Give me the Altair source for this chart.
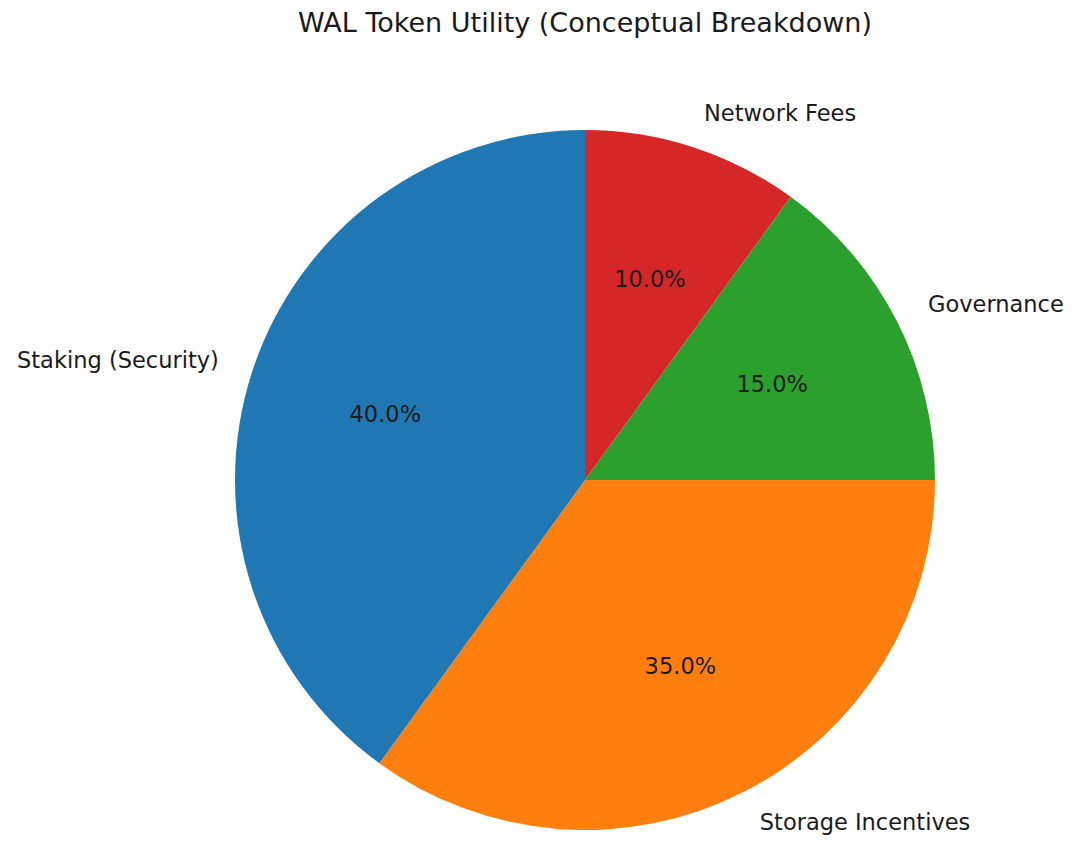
import altair as alt
import pandas as pd

categories = ["Network Fees", "Governance", "Storage Incentives", "Staking (Security)"]
shares = [10, 15, 35, 40]
colors = ["#d62728", "#2ca02c", "#ff7f0e", "#1f77b4"]
sides = ["left", "left", "left", "right"]

df = pd.DataFrame({
    "category": categories,
    "share": shares,
    "side": sides,
    "order": list(range(len(categories))),
})
df["pct"] = [f"{v:.1f}%" for v in shares]

CX, CY, R = 577, 422, 350
FONT = "DejaVu Sans"
FS = 22.5

base = alt.Chart(df).encode(
    theta=alt.Theta("share:Q", stack=True),
    order=alt.Order("order:Q"),
    x=alt.value(CX),
    y=alt.value(CY),
)

arcs = base.mark_arc(outerRadius=R).encode(
    color=alt.Color("category:N", scale=alt.Scale(domain=categories, range=colors), legend=None)
)

pct = base.mark_text(font=FONT, fontSize=FS, color="#1a1a1a", align="center", baseline="middle").encode(
    radius=alt.value(R * 0.6),
    text="pct:N",
)

lab_left = base.mark_text(font=FONT, fontSize=FS, color="#1a1a1a", align="left", baseline="middle").encode(
    radius=alt.value(R * 1.1),
    text=alt.condition("datum.side == 'left'", "category:N", alt.value("")),
)
lab_right = base.mark_text(font=FONT, fontSize=FS, color="#1a1a1a", align="right", baseline="middle").encode(
    radius=alt.value(R * 1.1),
    text=alt.condition("datum.side == 'right'", "category:N", alt.value("")),
)

chart = alt.layer(arcs, pct, lab_left, lab_right).properties(
    width=1064,
    height=784,
    title=alt.TitleParams(
        "WAL Token Utility (Conceptual Breakdown)",
        font=FONT, fontSize=27, fontWeight="normal", color="#1a1a1a", dx=45, offset=20,
    ),
    autosize=alt.AutoSizeParams(type="none"),
    padding={"left": 0, "top": 50, "right": 0, "bottom": 0},
).configure_view(stroke=None)

chart.save("out.html", embed_options={"renderer": "svg", "actions": False})
